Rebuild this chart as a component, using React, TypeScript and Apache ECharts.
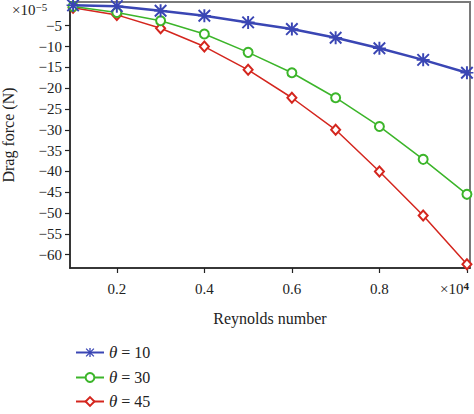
import React, { useEffect, useRef } from "react";
import * as echarts from "echarts";

const reynolds = [0.1, 0.2, 0.3, 0.4, 0.5, 0.6, 0.7, 0.8, 0.9, 1.0];
const theta10 = [-0.1, -0.3, -1.4, -2.6, -4.2, -5.8, -7.9, -10.4, -13.2, -16.3];
const theta30 = [-0.4, -1.8, -3.8, -7.0, -11.4, -16.3, -22.3, -29.2, -37.1, -45.5];
const theta45 = [-0.7, -2.4, -5.6, -10.0, -15.6, -22.3, -30.0, -40.0, -50.6, -62.3];
const seriesNames = ["θ = 10", "θ = 30", "θ = 45"];
const yTicks = [-5, -10, -15, -20, -25, -30, -35, -40, -45, -50, -55, -60];
const xLabels = [0.2, 0.4, 0.6, 0.8];
const xTicks = [0.2, 0.4, 0.6, 0.8, 1.0];

const FONT = "Liberation Serif";
const starPath =
  "path://M8.5,0L11.5,0L11.5,20L8.5,20Z M2.2,0.1L19.9,17.8L17.8,19.9L0.1,2.2Z M17.8,0.1L19.9,2.2L2.2,19.9L0.1,17.8Z M0,8.8L20,8.8L20,11.2L0,11.2Z";

const colors = ["#3a46b4", "#3cb52a", "#d4261e"];
const legendTops = [342, 367, 391];

export default function App() {
  const ref = useRef<HTMLDivElement>(null);
  useEffect(() => {
    if (!ref.current) return;
    const chart = echarts.init(ref.current, null, { renderer: "svg" });
    const mk = (arr: number[]) => reynolds.map((x, i) => [x, arr[i]]);
    chart.setOption({
      animation: false,
      textStyle: { fontFamily: FONT },
      grid: {
        left: 70,
        top: 2,
        right: 4,
        bottom: 146,
        show: true,
        borderColor: "#7a7a7a",
        borderWidth: 2,
        outerBoundsMode: "none",
        containLabel: false,
      },
      xAxis: {
        type: "value",
        min: 0.093,
        max: 1.007,
        name: "Reynolds number",
        nameLocation: "middle",
        nameGap: 42,
        nameTextStyle: { fontFamily: FONT, fontSize: 16, color: "#222" },
        splitLine: { show: false },
        axisLine: { onZero: false, lineStyle: { color: "#222", width: 1.5 } },
        axisTick: {
          show: true,
          length: 5,
          customValues: xTicks,
          lineStyle: { color: "#222", width: 1.2 },
        },
        axisLabel: {
          customValues: xLabels,
          margin: 13,
          fontFamily: FONT,
          fontSize: 15,
          color: "#222",
          formatter: (v: number) => v.toFixed(1),
        },
      },
      yAxis: {
        type: "value",
        min: -63.2,
        max: 0.7,
        name: "Drag force (N)",
        nameLocation: "middle",
        nameGap: 54,
        nameTextStyle: { fontFamily: FONT, fontSize: 16, color: "#222" },
        splitLine: { show: false },
        axisLine: { onZero: false, lineStyle: { color: "#222", width: 1.5 } },
        axisTick: {
          show: true,
          length: 5,
          customValues: yTicks,
          lineStyle: { color: "#222", width: 1.2 },
        },
        axisLabel: {
          customValues: yTicks,
          margin: 8,
          fontFamily: FONT,
          fontSize: 15,
          color: "#222",
          formatter: (v: number) => (v < 0 ? "\u2212" : "") + Math.abs(v),
        },
      },
      legend: seriesNames.map((n, i) => ({
        orient: "vertical",
        left: 70,
        top: legendTops[i],
        itemWidth: 28,
        itemHeight: 11,
        itemGap: 0,
        padding: [2, 5, 2, 5],
        data: [n],
        textStyle: {
          fontFamily: FONT,
          fontSize: 16,
          color: "#222",
          rich: {
            i: { fontStyle: "italic", fontFamily: FONT, fontSize: 17, color: "#222" },
          },
        },
        formatter: (name: string) => "{i|θ}" + name.slice(1),
      })),
      graphic: [
        {
          type: "text",
          left: 12,
          top: 1,
          style: {
            text: "×10{s|−5}",
            fontFamily: FONT,
            fontSize: 15,
            fill: "#222",
            rich: { s: { fontSize: 11, fontFamily: FONT, padding: [0, 0, 7, 0] } },
          },
        },
        {
          type: "text",
          left: 440,
          top: 280,
          style: {
            text: "×10{s|4}",
            fontFamily: FONT,
            fontSize: 15,
            fill: "#222",
            rich: { s: { fontSize: 11, fontWeight: "bold", fontFamily: FONT, padding: [0, 0, 7, 0] } },
          },
        },
      ],
      series: [
        {
          name: seriesNames[0],
          type: "line",
          data: mk(theta10),
          symbol: starPath,
          symbolSize: 13,
          color: colors[0],
          lineStyle: { width: 2.5, color: colors[0] },
          itemStyle: { color: colors[0] },
          z: 4,
        },
        {
          name: seriesNames[1],
          type: "line",
          data: mk(theta30),
          symbol: "emptyCircle",
          symbolSize: 9,
          color: colors[1],
          lineStyle: { width: 1.5, color: colors[1] },
          itemStyle: { color: colors[1], borderWidth: 1.8 },
          z: 3,
        },
        {
          name: seriesNames[2],
          type: "line",
          data: mk(theta45),
          symbol: "emptyDiamond",
          symbolSize: [9, 10],
          color: colors[2],
          lineStyle: { width: 1.5, color: colors[2] },
          itemStyle: { color: colors[2], borderWidth: 1.6 },
          z: 2,
        },
      ],
    });
    return () => chart.dispose();
  }, []);
  return (
    <div
      ref={ref}
      style={{ position: "absolute", left: 0, top: 0, width: 474, height: 414 }}
    />
  );
}
